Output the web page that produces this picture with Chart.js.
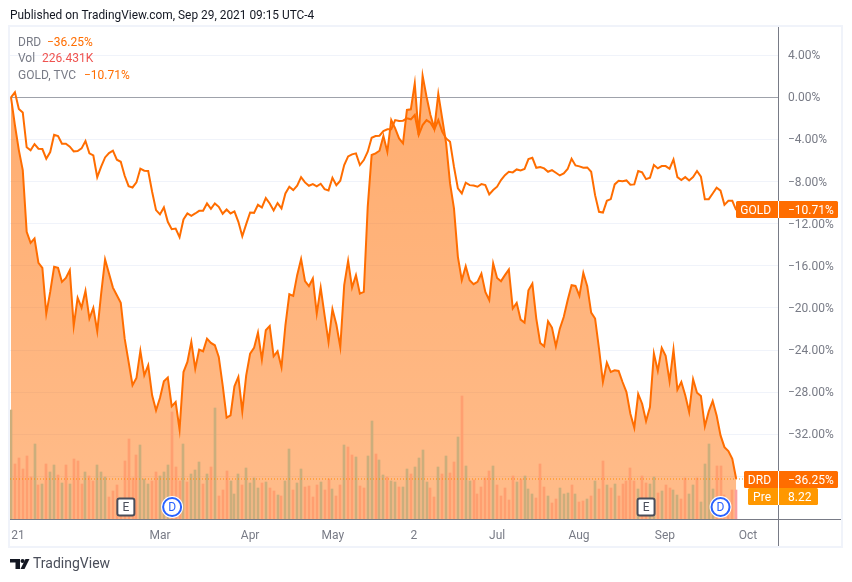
<!DOCTYPE html>
<html>
<head>
<meta charset="utf-8">
<title>DRD vs GOLD</title>
<style>
  html, body { margin: 0; padding: 0; background: #fff; }
  canvas { display: block; }
</style>
<script src="https://cdn.jsdelivr.net/npm/chart.js@4/dist/chart.umd.min.js"></script>
</head>
<body>
<canvas id="myChart" width="852" height="582"></canvas>
<script>
// percent change since the first session
const drd = [
  0, -2.63, -5.01, -6.91, -12.77, -13.82, -13.41, -15.72, -16.20, -20.54,
  -18.48, -16.10, -16.20, -17.53, -17.15, -16.42, -21.71, -19.05, -19.97, -18.38,
  -21.01, -20.00, -22.22, -18.64, -15.40, -16.74, -18.07, -18.80, -19.52, -22.92,
  -25.13, -27.35, -26.66, -24.09, -26.40, -25.45, -28.30, -29.73, -28.56, -26.97,
  -26.62, -29.35, -28.94, -31.54, -26.09, -25.13, -23.23, -25.77, -23.96, -24.12,
  -22.92, -23.33, -23.55, -24.66, -27.35, -30.43, -30.21, -27.45, -26.56, -29.83,
  -26.40, -24.34, -23.80, -22.35, -24.91, -22.12, -21.71, -24.60, -24.12, -25.64,
  -21.65, -18.70, -18.86, -16.89, -15.37, -17.46, -17.94, -17.21, -20.54, -18.07,
  -20.70, -23.23, -20.13, -21.58, -23.71, -17.84, -15.53, -18.07, -16.89, -18.64,
  -18.48, -10.40, -5.48, -5.32, -5.07, -3.68, -5.17, -2.16, -2.95, -3.90,
  -4.37, -1.20, -1.14, 1.33, -3.58, 2.06, 0.06, -1.68, -2.95, 0.32,
  -2.00, -4.37, -8.18, -10.55, -15.15, -17.37, -16.04, -17.37, -17.75, -17.53,
  -16.74, -18.48, -19.27, -15.78, -17.15, -17.46, -16.89, -16.36, -20.06, -19.52,
  -21.11, -21.39, -18.32, -17.69, -21.01, -23.33, -23.65, -21.27, -21.87, -23.65,
  -21.97, -20.86, -19.27, -17.84, -17.91, -18.86, -16.67, -17.94, -20.44, -21.01,
  -23.87, -27.04, -25.20, -26.09, -25.93, -25.99, -27.04, -27.99, -30.05, -31.38,
  -28.18, -29.10, -30.75, -29.41, -24.34, -25.99, -23.80, -24.56, -26.97, -23.96,
  -27.77, -27.04, -28.30, -29.89, -26.78, -28.05, -28.37, -31.25, -29.83, -28.84,
  -30.21, -32.11, -33.22, -33.60, -34.33, -36.25
];
const gold = [
  0, 0.48, -1.11, -1.43, -4.75, -5.04, -4.44, -4.88, -4.91, -5.83,
  -5.20, -3.55, -3.68, -4.41, -4.41, -4.69, -5.13, -5.10, -4.85, -4.15,
  -5.32, -5.52, -7.58, -6.59, -5.71, -5.29, -5.07, -5.93, -6.12, -7.45,
  -8.43, -8.56, -8.08, -6.78, -6.97, -7.00, -8.97, -10.71, -11.12, -10.46,
  -11.82, -12.52, -12.46, -13.28, -11.60, -11.03, -11.25, -11.03, -10.78, -10.78,
  -10.08, -10.59, -10.08, -10.40, -11.06, -10.65, -11.03, -10.84, -11.82, -13.19,
  -12.04, -10.94, -10.97, -10.21, -10.46, -9.57, -10.08, -10.74, -10.05, -10.55,
  -9.13, -8.49, -8.81, -8.40, -7.58, -8.08, -8.40, -8.24, -8.46, -8.21,
  -8.72, -8.84, -7.64, -8.34, -7.92, -6.43, -5.61, -5.42, -5.32, -6.43,
  -5.96, -5.17, -3.84, -3.68, -3.65, -3.20, -3.04, -3.04, -2.16, -2.25,
  -2.22, -2.00, -2.09, -1.68, -3.58, -2.63, -2.16, -2.41, -3.04, -2.16,
  -3.26, -3.90, -4.22, -6.59, -8.65, -9.13, -8.11, -8.34, -8.37, -8.49,
  -8.24, -8.34, -9.22, -8.81, -8.49, -7.86, -7.39, -7.07, -7.13, -6.85,
  -6.94, -6.81, -5.86, -5.74, -6.69, -6.62, -6.75, -7.07, -6.91, -7.16,
  -7.42, -7.23, -6.81, -5.83, -6.47, -6.56, -6.69, -6.66, -7.07, -9.29,
  -10.87, -10.94, -9.83, -9.67, -8.27, -7.92, -7.96, -7.89, -8.30, -8.27,
  -7.00, -7.13, -7.77, -7.64, -6.43, -6.75, -6.53, -6.53, -6.78, -5.90,
  -7.58, -7.86, -7.58, -7.89, -7.58, -7.00, -7.54, -9.67, -9.67, -9.13,
  -8.59, -8.87, -10.21, -9.83, -9.83, -10.71
];
// volume in thousands
const volume = [
  850, 429, 473, 390, 491, 325, 585, 265, 273, 429,
  367, 421, 343, 281, 421, 273, 468, 452, 273, 367,
  335, 296, 421, 367, 328, 172, 218, 265, 148, 452,
  624, 317, 499, 577, 312, 273, 296, 367, 335, 367,
  421, 835, 406, 296, 585, 289, 351, 382, 445, 273,
  351, 406, 866, 179, 226, 374, 296, 195, 351, 265,
  398, 281, 320, 242, 281, 289, 242, 218, 187, 179,
  296, 546, 226, 281, 390, 250, 257, 172, 265, 289,
  226, 312, 234, 179, 265, 577, 562, 499, 484, 257,
  242, 491, 764, 507, 460, 343, 328, 296, 289, 250,
  250, 390, 351, 406, 476, 538, 289, 242, 172, 406,
  351, 491, 359, 445, 640, 959, 413, 296, 304, 195,
  250, 320, 374, 413, 265, 179, 242, 148, 335, 289,
  312, 335, 234, 195, 164, 429, 250, 179, 125, 156,
  242, 195, 203, 265, 195, 133, 140, 156, 179, 296,
  234, 452, 265, 242, 273, 179, 273, 296, 398, 296,
  234, 335, 281, 273, 328, 200, 218, 265, 242, 226,
  187, 156, 320, 195, 265, 320, 133, 429, 585, 234,
  413, 413, 187, 148, 226, 226
];
// 1 = up day, 0 = down day
const volumeUp = [
  1, 0, 0, 0, 0, 0, 1, 0, 1, 0,
  1, 1, 0, 1, 0, 1, 0, 0, 0, 1,
  0, 0, 1, 1, 1, 0, 0, 0, 0, 0,
  0, 0, 0, 1, 1, 1, 0, 0, 1, 1,
  1, 0, 0, 0, 1, 0, 1, 1, 1, 0,
  1, 0, 1, 0, 0, 0, 1, 1, 1, 0,
  1, 1, 1, 1, 0, 1, 0, 0, 1, 0,
  1, 1, 0, 1, 1, 0, 0, 0, 0, 1,
  0, 0, 1, 0, 0, 1, 0, 0, 1, 0,
  0, 1, 1, 0, 1, 1, 0, 1, 1, 0,
  1, 1, 0, 1, 1, 1, 1, 0, 0, 1,
  0, 1, 0, 0, 1, 0, 1, 1, 0, 0,
  0, 0, 0, 1, 0, 0, 0, 0, 0, 1,
  0, 1, 1, 1, 0, 0, 0, 1, 0, 0,
  1, 1, 1, 0, 1, 0, 0, 1, 0, 1,
  0, 0, 1, 0, 1, 0, 0, 0, 0, 0,
  1, 0, 0, 1, 1, 0, 1, 0, 0, 1,
  1, 0, 0, 1, 1, 0, 1, 1, 1, 1,
  0, 0, 0, 0, 0, 0
];

const monthLabels = ['21', 'Mar', 'Apr', 'May', '2', 'Jul', 'Aug', 'Sep', 'Oct'];
const monthSessions = [1.8, 38, 61, 82.1, 102.8, 124, 144.9, 166.8, 188];
const percentTicks = [4, 0, -4, -8, -12, -16, -20, -24, -28, -32, -36];
const earningsSessions = [29.3, 162];
const dividendSessions = [41.1, 181];

const ORANGE = '#ff6d00';
const FONT = 'Roboto, sans-serif';
const X_MIN = -0.255, X_MAX = 195.66;

const pct = v => (v < 0 ? '\u2212' : '') + Math.abs(v).toFixed(2) + '%';
const xy = arr => arr.map((v, i) => ({ x: i, y: v }));

function text(ctx, str, x, y, color, align) {
  ctx.fillStyle = color;
  ctx.textAlign = align || 'left';
  ctx.textBaseline = 'middle';
  ctx.fillText(str, x, y + 1);
}

// light frame and the two axis lines
const framePlugin = {
  id: 'frame',
  beforeDraw(chart) {
    const ctx = chart.ctx;
    ctx.save();
    ctx.fillStyle = '#fff';
    ctx.fillRect(0, 0, 852, 582);
    ctx.strokeStyle = '#f0f3fa';
    ctx.lineWidth = 2;
    ctx.strokeRect(9, 26, 833, 521);
    ctx.restore();
  },
  afterDatasetsDraw(chart) {
    const ctx = chart.ctx;
    ctx.save();
    ctx.fillStyle = '#787b86';
    ctx.fillRect(10, 519, 831, 1);
    ctx.fillRect(778, 27, 1, 519);
    ctx.restore();
  }
};

// snap the volume bars to whole pixels so they stay crisp
const snapBarsPlugin = {
  id: 'snapBars',
  beforeDatasetsDraw(chart) {
    chart.getDatasetMeta(1).data.forEach(bar => {
      bar.x = Math.round(bar.x);
      bar.y = Math.round(bar.y);
    });
  }
};

// everything that is not a series: titles, legend, price tags, event marks
const labelsPlugin = {
  id: 'labels',
  afterDraw(chart) {
    const ctx = chart.ctx;
    const xs = chart.scales.x, ys = chart.scales.y;
    ctx.save();
    ctx.font = '11.9px ' + FONT;
    text(ctx, 'Published on TradingView.com, Sep 29, 2021 09:15 UTC-4', 10, 15, '#131722');

    ctx.font = '12px ' + FONT;
    const legendGray = '#787b86';
    text(ctx, 'DRD', 18, 42, legendGray);
    text(ctx, pct(drd[drd.length - 1]), 47, 42, ORANGE);
    text(ctx, 'Vol', 18, 58, legendGray);
    text(ctx, '226.431K', 42, 58, '#ef5350');
    text(ctx, 'GOLD, TVC', 18, 75, legendGray);
    text(ctx, pct(gold[gold.length - 1]), 84, 75, ORANGE);

    const tag = (name, value, y, left, right, color) => {
      ctx.fillStyle = color;
      ctx.beginPath();
      ctx.roundRect(left, y - 8.5, right - left, 17, 1.5);
      ctx.fill();
      ctx.fillStyle = '#fff';
      ctx.fillRect(778, y - 8.5, 1, 17);
      text(ctx, name, 771, y, '#fff', 'right');
      text(ctx, value, 788, y, '#fff');
    };
    const drdY = Math.round(ys.getPixelForValue(drd[drd.length - 1])) + 0.5;
    const goldY = Math.round(ys.getPixelForValue(gold[gold.length - 1])) - 0.5;
    tag('GOLD', pct(gold[gold.length - 1]), goldY, 736, 838, ORANGE);
    tag('Pre', '8.22', drdY + 17, 748, 818, '#ff9800');
    tag('DRD', pct(drd[drd.length - 1]), drdY, 744, 838, ORANGE);

    const markY = 507;
    earningsSessions.forEach(s => {
      const x = xs.getPixelForValue(s);
      ctx.fillStyle = '#fff';
      ctx.strokeStyle = '#4a4e5a';
      ctx.lineWidth = 2;
      ctx.beginPath();
      ctx.roundRect(x - 8.5, markY - 8.5, 17, 17, 2);
      ctx.fill();
      ctx.stroke();
      text(ctx, 'E', x, markY - 0.5, '#4a4e5a', 'center');
    });
    dividendSessions.forEach(s => {
      const x = xs.getPixelForValue(s);
      ctx.fillStyle = '#fff';
      ctx.beginPath();
      ctx.arc(x, markY, 11, 0, Math.PI * 2);
      ctx.fill();
      ctx.strokeStyle = '#2962ff';
      ctx.lineWidth = 2;
      ctx.beginPath();
      ctx.arc(x, markY, 9, 0, Math.PI * 2);
      ctx.stroke();
      text(ctx, 'D', x, markY - 0.5, '#2962ff', 'center');
    });

    // logo
    ctx.fillStyle = '#131722';
    ctx.fillRect(10, 559, 10, 3.5);
    ctx.fillRect(15.5, 559, 4.5, 10);
    ctx.beginPath();
    ctx.arc(22.6, 561, 2.1, 0, Math.PI * 2);
    ctx.fill();
    ctx.beginPath();
    ctx.moveTo(25.5, 559);
    ctx.lineTo(29.5, 559);
    ctx.lineTo(24.5, 569);
    ctx.lineTo(20.5, 569);
    ctx.closePath();
    ctx.fill();
    ctx.font = '14px ' + FONT;
    text(ctx, 'TradingView', 33, 563, '#4a4e5a');
    ctx.restore();
  }
};

new Chart(document.getElementById('myChart').getContext('2d'), {
  data: {
    datasets: [
      {
        type: 'line',
        label: 'DRD area',
        data: xy(drd),
        order: 5,
        borderWidth: 0,
        pointRadius: 0,
        fill: 'start',
        backgroundColor: c => {
          const g = c.chart.ctx.createLinearGradient(0, 90, 0, 519);
          g.addColorStop(0, 'rgba(255,109,0,0.56)');
          g.addColorStop(1, 'rgba(255,109,0,0.46)');
          return g;
        }
      },
      {
        type: 'bar',
        label: 'Vol',
        data: xy(volume),
        yAxisID: 'vol',
        order: 4,
        barThickness: 2,
        backgroundColor: volumeUp.map((up, i) =>
          i === volume.length - 1 ? '#fb9f9f' : up ? '#cbae7c' : '#ff9f70')
      },
      {
        type: 'line',
        label: 'DRD last',
        data: [{ x: X_MIN, y: drd[drd.length - 1] }, { x: 187, y: drd[drd.length - 1] }],
        order: 3,
        borderColor: '#ff8c00',
        borderWidth: 1,
        borderDash: [1, 2],
        pointRadius: 0
      },
      {
        type: 'line',
        label: 'DRD',
        data: xy(drd),
        order: 2,
        borderColor: ORANGE,
        borderWidth: 2,
        pointRadius: 0,
        fill: false
      },
      {
        type: 'line',
        label: 'GOLD',
        data: xy(gold),
        order: 1,
        borderColor: ORANGE,
        borderWidth: 2,
        pointRadius: 0,
        fill: false
      }
    ]
  },
  options: {
    responsive: false,
    animation: false,
    events: [],
    layout: { padding: { left: 10, top: 27, right: 0, bottom: 0 } },
    plugins: { legend: { display: false }, tooltip: { enabled: false } },
    scales: {
      x: {
        type: 'linear',
        min: X_MIN,
        max: X_MAX,
        offset: false,
        grid: { display: false },
        border: { display: false },
        afterFit: s => { s.height = 63; },
        afterBuildTicks: s => { s.ticks = monthSessions.map(v => ({ value: v })); },
        ticks: {
          autoSkip: false,
          maxRotation: 0,
          padding: 2,
          color: '#787b86',
          font: { family: FONT, size: 12 },
          callback: v => monthLabels[monthSessions.indexOf(v)]
        }
      },
      y: {
        position: 'right',
        min: -40.05,
        max: 6.68,
        border: { display: false },
        grid: {
          drawTicks: false,
          color: c => (c.tick && c.tick.value === 0 ? '#9fa2ab' : '#f0f3fa')
        },
        afterFit: s => { s.width = 74; },
        afterBuildTicks: s => { s.ticks = percentTicks.map(v => ({ value: v })); },
        ticks: {
          padding: 10,
          labelOffset: 1,
          color: '#787b86',
          font: { family: FONT, size: 12 },
          // the -36 label sits under the DRD price tag
          callback: v => (v === -36 ? '' : pct(v))
        }
      },
      vol: {
        display: false,
        min: 0,
        max: 3842
      }
    }
  },
  plugins: [framePlugin, snapBarsPlugin, labelsPlugin]
});
</script>
</body>
</html>
